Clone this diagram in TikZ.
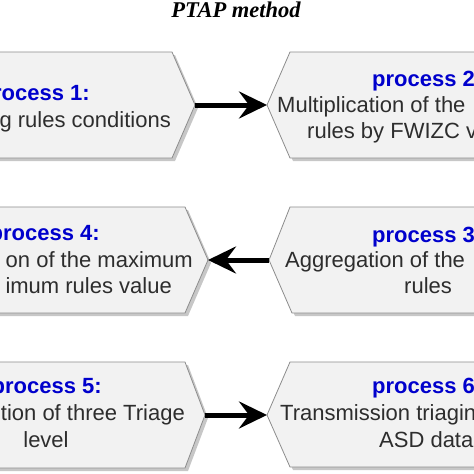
\documentclass[tikz,border=0pt]{standalone}
\usepackage{fontspec}
\setmainfont{Liberation Sans}
\newfontfamily\titlefont{Liberation Serif}
\usetikzlibrary{arrows.meta}
\definecolor{procblue}{RGB}{0,0,204}
\definecolor{bodygray}{RGB}{45,45,45}
\definecolor{boxfill}{RGB}{242,242,242}
\definecolor{boxline}{RGB}{140,140,140}
\begin{document}
\begin{tikzpicture}[x=1pt, y=-1pt,
  box/.style={fill=boxfill, draw=boxline, line width=0.8pt},
  boxshadow/.style={fill=black!22, draw=none},
  proc/.style={inner sep=0pt, text=procblue, font=\fontsize{22}{26}\selectfont\bfseries},
  desc/.style={inner sep=0pt, text=bodygray, font=\fontsize{22}{26}\selectfont},
  flow/.style={line width=5pt, -{Stealth[length=28pt, width=27pt, inset=10pt]}}]
% Set the page size
\useasboundingbox (0,0) rectangle (474,474);
\clip (0,0) rectangle (474,474);

% Title
\node[font=\titlefont\fontsize{22.5}{26}\selectfont\bfseries\itshape, anchor=base, inner sep=0pt] (title) at (236,17) {PTAP method};

% Draw the shadows
\fill[boxshadow] (-10,55) -- (175,55) -- (198,108) -- (175,161) -- (-10,161) -- cycle;
\fill[boxshadow] (490,55) -- (293,55) -- (270,108) -- (293,161) -- (490,161) -- cycle;
\fill[boxshadow] (-10,210) -- (188,210) -- (211,263) -- (188,316) -- (-10,316) -- cycle;
\fill[boxshadow] (490,210) -- (293,210) -- (272,263) -- (295,316) -- (490,316) -- cycle;
\fill[boxshadow] (-10,365) -- (188,365) -- (208,418) -- (188,471) -- (-10,471) -- cycle;
\fill[boxshadow] (490,365) -- (293,365) -- (270,418) -- (293,470) -- (490,470) -- cycle;

% Draw the boxes
\draw[box] (-10,52) -- (172,52) -- (195,105) -- (172,158) -- (-10,158) -- cycle;
\coordinate (p1tip) at (195,105);
\draw[box] (490,52) -- (290,52) -- (267,105) -- (290,158) -- (490,158) -- cycle;
\coordinate (p2tip) at (267,105);
\draw[box] (-10,207) -- (185,207) -- (208,260) -- (185,313) -- (-10,313) -- cycle;
\coordinate (p4tip) at (208,260);
\draw[box] (490,207) -- (290,207) -- (269,260) -- (292,313) -- (490,313) -- cycle;
\coordinate (p3tip) at (269,260);
\draw[box] (-10,362) -- (185,362) -- (205,415) -- (185,468) -- (-10,468) -- cycle;
\coordinate (p5tip) at (205,415);
\draw[box] (490,362) -- (290,362) -- (267,415) -- (290,467) -- (490,467) -- cycle;
\coordinate (p6tip) at (267,415);

% Insert the texts
\node[proc, anchor=base east] (p1head) at (90,100) {process 1:};
\node[desc, anchor=base east] (p1line1) at (171,127) {g rules conditions};
\node[proc, anchor=base west] (p2head) at (372,86) {process 2};
\node[desc, anchor=base west] (p2line1) at (277,112) {Multiplication of the};
\node[desc, anchor=base west] (p2line2) at (307,138) {rules by FWIZC v};
\node[proc, anchor=base east] (p4head) at (100,240) {process 4:};
\node[desc, anchor=base east] (p4line1) at (193,267) {on of the maximum};
\node[desc, anchor=base east] (p4line2) at (172,293) {imum rules value};
\node[proc, anchor=base west] (p3head) at (372,242) {process 3};
\node[desc, anchor=base west] (p3line1) at (285,267) {Aggregation of the};
\node[desc, anchor=base west] (p3line2) at (404,293) {rules};
\node[proc, anchor=base east] (p5head) at (102,393) {process 5:};
\node[desc, anchor=base east] (p5line1) at (185,420) {tion of three Triage};
\node[desc, anchor=base] (p5line2) at (46,447) {level};
\node[proc, anchor=base west] (p6head) at (372,393) {process 6};
\node[desc, anchor=base west] (p6line1) at (280,420) {Transmission triagin};
\node[desc, anchor=base west] (p6line2) at (379,447) {ASD data};

% Draw the arrows
\draw[flow] (p1tip) -- (p2tip);
\draw[flow] (p3tip) -- (p4tip);
\draw[flow] (p5tip) -- (p6tip);
\end{tikzpicture}
\end{document}
